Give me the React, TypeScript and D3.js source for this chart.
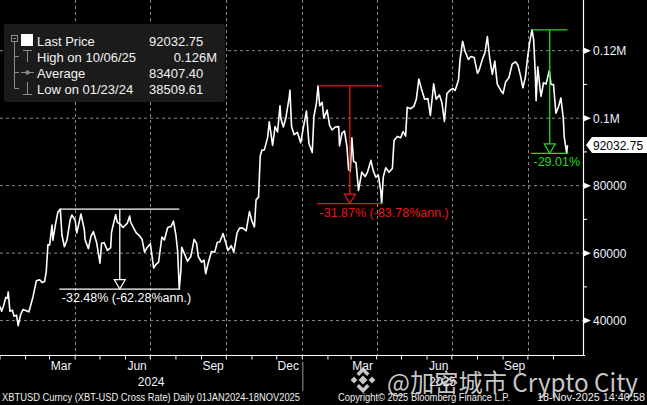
import React from 'react';
import * as d3 from 'd3';

const W = 647;
const H = 405;

// ---- price series (XBTUSD daily, sampled) ----
const dates: string[] = [
  '2024-01-01','2024-01-03','2024-01-05','2024-01-08','2024-01-10','2024-01-11','2024-01-13','2024-01-16','2024-01-18','2024-01-21',
  '2024-01-23','2024-01-26','2024-01-29','2024-02-01','2024-02-05','2024-02-08','2024-02-10','2024-02-14','2024-02-18','2024-02-21',
  '2024-02-24','2024-02-26','2024-02-28','2024-03-01','2024-03-04','2024-03-05','2024-03-08','2024-03-11','2024-03-14','2024-03-16',
  '2024-03-19','2024-03-22','2024-03-26','2024-03-28','2024-04-01','2024-04-03','2024-04-08','2024-04-12','2024-04-13','2024-04-17',
  '2024-04-20','2024-04-23','2024-04-27','2024-05-01','2024-05-03','2024-05-06','2024-05-10','2024-05-14','2024-05-15','2024-05-20',
  '2024-05-22','2024-05-26','2024-05-29','2024-06-03','2024-06-06','2024-06-07','2024-06-11','2024-06-14','2024-06-18','2024-06-21',
  '2024-06-24','2024-06-27','2024-07-01','2024-07-05','2024-07-08','2024-07-11','2024-07-15','2024-07-18','2024-07-22','2024-07-26',
  '2024-07-29','2024-08-01','2024-08-03','2024-08-05','2024-08-07','2024-08-08','2024-08-12','2024-08-15','2024-08-19','2024-08-23',
  '2024-08-26','2024-08-28','2024-09-01','2024-09-04','2024-09-06','2024-09-09','2024-09-13','2024-09-17','2024-09-20','2024-09-23',
  '2024-09-27','2024-09-30','2024-10-03','2024-10-07','2024-10-10','2024-10-14','2024-10-17','2024-10-21','2024-10-25','2024-10-29',
  '2024-11-01','2024-11-04','2024-11-06','2024-11-09','2024-11-11','2024-11-13','2024-11-16','2024-11-20','2024-11-22','2024-11-26',
  '2024-11-29','2024-12-02','2024-12-05','2024-12-06','2024-12-09','2024-12-12','2024-12-16','2024-12-17','2024-12-19','2024-12-22',
  '2024-12-26','2024-12-30','2025-01-02','2025-01-06','2025-01-09','2025-01-13','2025-01-15','2025-01-18','2025-01-20','2025-01-22',
  '2025-01-25','2025-01-27','2025-01-31','2025-02-03','2025-02-06','2025-02-10','2025-02-14','2025-02-15','2025-02-18','2025-02-21',
  '2025-02-24','2025-02-26','2025-02-28','2025-03-02','2025-03-04','2025-03-07','2025-03-10','2025-03-14','2025-03-18','2025-03-21',
  '2025-03-25','2025-03-28','2025-03-31','2025-04-03','2025-04-06','2025-04-07','2025-04-09','2025-04-12','2025-04-16','2025-04-20',
  '2025-04-22','2025-04-26','2025-04-30','2025-05-03','2025-05-06','2025-05-08','2025-05-12','2025-05-16','2025-05-19','2025-05-22',
  '2025-05-25','2025-05-29','2025-06-02','2025-06-05','2025-06-09','2025-06-12','2025-06-16','2025-06-19','2025-06-22','2025-06-25',
  '2025-06-29','2025-07-02','2025-07-05','2025-07-09','2025-07-11','2025-07-14','2025-07-17','2025-07-21','2025-07-24','2025-07-28',
  '2025-08-01','2025-08-03','2025-08-07','2025-08-10','2025-08-13','2025-08-16','2025-08-19','2025-08-22','2025-08-25','2025-08-29',
  '2025-09-01','2025-09-04','2025-09-08','2025-09-12','2025-09-16','2025-09-19','2025-09-22','2025-09-25','2025-09-28','2025-10-01',
  '2025-10-03','2025-10-06','2025-10-08','2025-10-10','2025-10-11','2025-10-13','2025-10-16','2025-10-17','2025-10-20','2025-10-23',
  '2025-10-27','2025-10-29','2025-11-01','2025-11-04','2025-11-07','2025-11-10','2025-11-13','2025-11-14','2025-11-17','2025-11-18'
];

const prices: number[] = [
  44200,42800,44100,46900,46600,48500,42800,43100,41300,41600,
  38510,41800,43300,43000,42600,45300,47100,51800,52100,51300,
  51600,54500,62500,62400,68300,63800,68300,72100,73050,65300,
  61900,63800,69900,71300,69700,66000,71600,67100,64000,61300,
  64900,66400,63100,57000,62900,63100,60800,61600,66200,71400,
  69100,68500,67600,68800,71000,69300,67300,66000,65100,64100,
  60300,61600,62800,55600,56700,57300,64800,63900,67600,67900,
  69500,65300,60700,49400,55000,61700,59400,57600,59000,64100,
  62900,59000,57300,57900,53900,57000,60500,60300,63200,63300,
  65800,63300,60800,62200,60300,66000,67400,67400,66600,72300,
  69500,67800,75800,76600,88700,90500,90600,94300,98900,91900,
  97500,95900,103700,99900,97400,100000,106000,108300,97500,95100,
  95800,92700,96900,102100,92500,89800,100500,104400,109600,103700,
  104700,100000,102400,97900,96500,97400,97500,91800,95600,96200,
  91500,84700,84300,94200,87200,86800,78600,84000,82700,84100,
  87500,84300,82500,83200,78300,74700,82600,85300,84000,85100,
  93400,94600,94200,96000,94700,103200,102800,103500,105600,111600,
  108900,105600,105800,100800,110200,105600,106900,104600,99000,107300,
  108300,108800,108200,111300,117500,122800,119800,117400,118300,118000,
  113300,114200,117500,119300,124200,117400,113000,116900,110100,108300,
  107300,110700,112000,116000,116700,115700,112700,109000,112100,118600,
  122200,126200,123300,113200,105200,115200,108200,106500,110500,110100,
  114100,110000,110000,101500,103300,106000,99700,94500,89600,92032.75
];

// ---- axes ----
const xDomain = ['2024-01-01', '2025-11-18'];
const yTicks = [40000, 60000, 80000, 100000, 120000];
const yTickLabels = ['40000', '60000', '80000', '0.1M', '0.12M'];
const yMinorTicks = [50000, 70000, 90000, 110000];
const gridDates = ['2024-04-01','2024-07-01','2024-10-01','2025-01-01','2025-04-01','2025-07-01','2025-10-01'];
const monthLabels = ['Mar','Jun','Sep','Dec','Mar','Jun','Sep'];
const monthLabelDates = ['2024-03-15','2024-06-15','2024-09-15','2024-12-15','2025-03-15','2025-06-15','2025-09-15'];
const yearLabels = ['2024', '2025'];
const yearStarts = ['2024-01-01', '2025-01-01'];
const yearEnds = ['2025-01-01', '2025-12-20'];

// ---- drawdown annotations ----
const ddStarts = ['2024-03-14', '2025-01-20', '2025-10-06'];
const ddEnds = ['2024-08-05', '2025-04-07', '2025-11-18'];
const ddPeaks = [73050, 109600, 126200];
const ddTroughs = [49330, 74670, 89590];
const ddLabels = ['-32.48% (-62.28%ann.)', '-31.87% (-83.78%ann.)', '-29.01%'];
const ddColors = ['#ffffff', '#f01414', '#27d827'];

// ---- legend ----
const legendNames = ['Last Price', 'High on 10/06/25', 'Average', 'Low on 01/23/24'];
const legendValues = ['92032.75', '0.126M', '83407.40', '38509.61'];
const lastPrice = 92032.75;

const footerLeft = 'XBTUSD Curncy (XBT-USD Cross Rate) Daily 01JAN2024-18NOV2025';
const footerMid = 'Copyright\u00A9 2025 Bloomberg Finance L.P.';
const footerRight = '18-Nov-2025 14:40:58';
const watermark = '@加密城市 Crypto City';

const parse = d3.utcParse('%Y-%m-%d');

export default function App() {
  const x = d3.scaleUtc().domain(xDomain.map((d) => parse(d) as Date)).range([0, 567.5]);
  const y = d3.scaleLinear().domain([40000, 120000]).range([320.6, 50.7]);
  const AX = 583; // right axis x
  const BY = 355.5; // bottom axis y

  const series = dates.map((d, i) => ({ date: parse(d) as Date, v: prices[i] }));
  const line = d3
    .line<{ date: Date; v: number }>()
    .x((d) => x(d.date))
    .y((d) => y(d.v));

  const months = d3.utcMonth.range(parse('2024-01-01') as Date, parse('2025-12-01') as Date);

  const font = "'Liberation Sans', Arial, sans-serif";
  const lastY = y(lastPrice);

  return (
    <div style={{ position: 'fixed', left: 0, top: 0, width: W, height: H, background: '#000' }}>
      <svg width={W} height={H} style={{ display: 'block', background: '#000' }} fontFamily={font}>
        {/* grid */}
        {yTicks.map((t) => (
          <line key={'hg' + t} x1={0} x2={AX} y1={y(t)} y2={y(t)} stroke="#8a8a8a" strokeWidth={1} strokeDasharray="3,3" />
        ))}
        {gridDates.map((d) => (
          <line key={'vg' + d} x1={Math.round(x(parse(d) as Date)) + 0.5} x2={Math.round(x(parse(d) as Date)) + 0.5} y1={0} y2={BY} stroke="#8a8a8a" strokeWidth={1} strokeDasharray="3,3" />
        ))}

        {/* price line */}
        <path d={line(series) || ''} fill="none" stroke="#ffffff" strokeWidth={1.6} strokeLinejoin="round" />

        {/* drawdowns */}
        {ddStarts.map((s, i) => {
          const x1 = x(parse(s) as Date);
          const x2 = x(parse(ddEnds[i]) as Date);
          const xm = (x1 + x2) / 2;
          const yp = y(ddPeaks[i]);
          const yt = y(ddTroughs[i]);
          const c = ddColors[i];
          return (
            <g key={'dd' + i}>
              <line x1={x1} x2={x2} y1={yp} y2={yp} stroke={c} strokeWidth={1.3} />
              <line x1={x1 - 1} x2={x2 + 1} y1={yt} y2={yt} stroke={c} strokeWidth={1.3} />
              <line x1={xm} x2={xm} y1={yp} y2={yt - 9} stroke={c} strokeWidth={1.3} />
              <path d={`M${xm - 5.5},${yt - 9.5}L${xm + 5.5},${yt - 9.5}L${xm},${yt}Z`} fill="#000" stroke={c} strokeWidth={1.2} />
              <text x={x1 + 1.5} y={yt + 13} fill={c} fontSize={12.5}>{ddLabels[i]}</text>
            </g>
          );
        })}

        {/* right axis */}
        <line x1={AX + 0.5} x2={AX + 0.5} y1={0} y2={BY} stroke="#ffffff" strokeWidth={1.2} />
        {yTicks.map((t, i) => (
          <g key={'yt' + t}>
            <path d={`M${AX + 1},${y(t) - 3}L${AX + 8},${y(t)}L${AX + 1},${y(t) + 3}Z`} fill="#ffffff" />
            <text x={AX + 10} y={y(t) + 4.5} fill="#eef2ff" fontSize={12}>{yTickLabels[i]}</text>
          </g>
        ))}
        {yMinorTicks.map((t) => (
          <line key={'ym' + t} x1={AX} x2={AX + 4} y1={y(t)} y2={y(t)} stroke="#ffffff" strokeWidth={1} />
        ))}

        {/* last price tag */}
        <path d={`M${AX + 3},${lastY}L${AX + 9},${lastY - 8}L${W},${lastY - 8}L${W},${lastY + 8}L${AX + 9},${lastY + 8}Z`} fill="#ffffff" />
        <text x={AX + 10} y={lastY + 4.5} fill="#000" fontSize={12}>{legendValues[0]}</text>

        {/* bottom axis */}
        <line x1={0} x2={AX + 2} y1={BY} y2={BY} stroke="#ffffff" strokeWidth={1.2} />
        {months.map((m) => (
          <line key={'mt' + m.toISOString()} x1={x(m)} x2={x(m)} y1={BY} y2={BY + 4} stroke="#ffffff" strokeWidth={1} />
        ))}
        {monthLabels.map((m, i) => (
          <text key={'ml' + i} x={x(parse(monthLabelDates[i]) as Date)} y={370} fill="#eef2ff" fontSize={12} textAnchor="middle">{m}</text>
        ))}
        <line x1={x(parse('2025-01-01') as Date) + 0.5} x2={x(parse('2025-01-01') as Date) + 0.5} y1={362} y2={391} stroke="#9a9a9a" strokeWidth={1} />
        {yearLabels.map((yl, i) => {
          const a = x(parse(yearStarts[i]) as Date);
          const b = Math.min(AX, x(parse(yearEnds[i]) as Date));
          return (
            <text key={'yl' + yl} x={(a + b) / 2} y={386} fill="#eef2ff" fontSize={12} textAnchor="middle">{yl}</text>
          );
        })}

        {/* footer */}
        <text x={2} y={401} fill="#f0f0f0" fontSize={10} textLength={298} lengthAdjust="spacingAndGlyphs">{footerLeft}</text>
        <text x={338} y={401} fill="#f0f0f0" fontSize={10} textLength={172} lengthAdjust="spacingAndGlyphs">{footerMid}</text>
        <text x={537} y={401} fill="#f0f0f0" fontSize={10} textLength={108} lengthAdjust="spacingAndGlyphs">{footerRight}</text>

        {/* watermark */}
        <g fill="#d8d8d8" opacity={0.92}>
          <g transform="translate(363,380)">
            <rect x={-3.2} y={-3.2} width={6.4} height={6.4} transform="rotate(45)" />
            <rect x={-2.4} y={-2.4} width={4.8} height={4.8} transform="translate(-9,0) rotate(45)" />
            <rect x={-2.4} y={-2.4} width={4.8} height={4.8} transform="translate(9,0) rotate(45)" />
            <path d="M0,-13L6.5,-6.5L4,-4L0,-8L-4,-4L-6.5,-6.5Z" />
            <path d="M0,13L6.5,6.5L4,4L0,8L-4,4L-6.5,6.5Z" />
          </g>
          <text x={387} y={392} fontSize={25} fontFamily="'Noto Sans CJK SC', 'Noto Sans', sans-serif" textLength={251} lengthAdjust="spacingAndGlyphs">{watermark}</text>
        </g>

        {/* legend */}
        <rect x={4} y={24} width={221} height={78} rx={2} fill="#1b1b1b" />
        <g stroke="#8c8c8c" strokeWidth={1} fill="none">
          <rect x={11.5} y={35.5} width={6} height={6} />
          <line x1={13} x2={16} y1={38.5} y2={38.5} />
          <line x1={14.5} x2={14.5} y1={42} y2={88.5} />
          <line x1={14.5} x2={19} y1={56.5} y2={56.5} />
          <line x1={14.5} x2={19} y1={72.5} y2={72.5} />
          <line x1={14.5} x2={19} y1={88.5} y2={88.5} />
          {/* high icon */}
          <line x1={23} x2={32} y1={50.5} y2={50.5} />
          <line x1={27.5} x2={27.5} y1={50.5} y2={62} />
          {/* avg icon */}
          <line x1={21} x2={34} y1={72.5} y2={72.5} />
          <circle cx={27.5} cy={72.5} r={1.8} fill="#8c8c8c" />
          {/* low icon */}
          <line x1={27.5} x2={27.5} y1={82} y2={94.5} />
          <line x1={23} x2={32} y1={94.5} y2={94.5} />
        </g>
        <rect x={21} y={34} width={12} height={12} fill="#ffffff" />
        {legendNames.map((n, i) => (
          <g key={'lg' + i}>
            <text x={37} y={45.5 + i * 16} fill="#f2f2f2" fontSize={13}>{n}</text>
            <text x={i === 1 ? 217 : 149} y={45.5 + i * 16} fill="#f2f2f2" fontSize={13} textAnchor={i === 1 ? 'end' : 'start'}>{legendValues[i]}</text>
          </g>
        ))}
      </svg>
    </div>
  );
}
